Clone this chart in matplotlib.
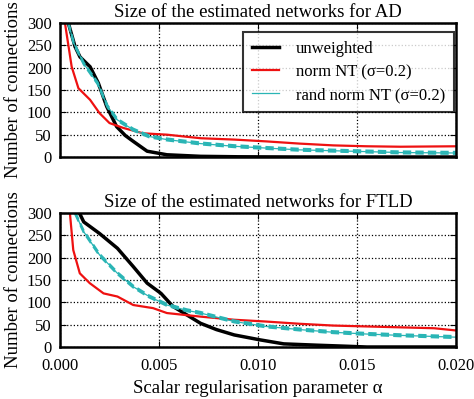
import matplotlib
matplotlib.use("Agg")
import matplotlib.pyplot as plt
import numpy as np

plt.rcParams["font.family"] = ["Liberation Serif", "DejaVu Serif"]

# alpha values (x) and number of connections (y)
ad_unw_x = [0.00042, 0.00076, 0.00101, 0.00152, 0.00194, 0.00236, 0.00286, 0.0033, 0.0037, 0.0044, 0.0054, 0.0071, 0.009, 0.012, 0.02]
ad_unw_y = [300, 247, 224, 202, 165, 113, 68, 48, 35, 13, 5, 1.5, 0.5, 0, 0]

ad_nt_x = [0.00025, 0.00059, 0.00093, 0.00152, 0.002, 0.0025, 0.0032, 0.0042, 0.0054, 0.0071, 0.0088, 0.0104, 0.0121, 0.0138, 0.0155, 0.0172, 0.02]
ad_nt_y = [300, 202, 154, 128, 98, 76, 65, 53, 50, 42, 39, 35, 30, 26, 24, 23, 24]

ad_rand_x = [0.00042, 0.0007, 0.0012, 0.0019, 0.0024, 0.0029, 0.0037, 0.0045, 0.0054, 0.0071, 0.0088, 0.0104, 0.0121, 0.0138, 0.0155, 0.0172, 0.02]
ad_rand_y = [300, 254, 209, 165, 113, 83, 61, 46, 39, 30, 24, 20, 16, 14, 12, 10, 9]

ftld_unw_x = [0.00098, 0.0012, 0.002, 0.0029, 0.0037, 0.0044, 0.0051, 0.0057, 0.0064, 0.0071, 0.0079, 0.0088, 0.0101, 0.0113, 0.013, 0.0146, 0.0155, 0.02]
ftld_unw_y = [300, 280, 254, 221, 180, 143, 120, 91, 72, 53, 39, 27, 16, 7, 4, 1.5, 0, 0]

ftld_nt_x = [0.0005, 0.00067, 0.001, 0.0015, 0.0022, 0.0029, 0.0037, 0.0047, 0.0054, 0.0071, 0.0088, 0.0104, 0.0121, 0.0138, 0.0155, 0.0172, 0.0189, 0.02]
ftld_nt_y = [300, 217, 165, 143, 120, 113, 94, 87, 76, 68, 61, 57, 52, 48, 46, 44, 42, 37]

ftld_rand_x = [0.00076, 0.0012, 0.002, 0.0029, 0.0037, 0.0045, 0.0054, 0.0064, 0.0071, 0.0088, 0.0104, 0.0121, 0.0138, 0.0155, 0.0172, 0.02]
ftld_rand_y = [300, 258, 206, 165, 135, 113, 94, 82, 76, 57, 46, 39, 33, 29, 26, 22]

labels = ["unweighted", "norm NT (σ=0.2)", "rand norm NT (σ=0.2)"]
titles = ["Size of the estimated networks for AD", "Size of the estimated networks for FTLD"]

fig = plt.figure(figsize=(4.74, 3.99), dpi=100)
ax1 = fig.add_axes([60 / 474, 1 - 157 / 399, 396 / 474, 134 / 399])
ax2 = fig.add_axes([60 / 474, 1 - 347 / 399, 396 / 474, 134 / 399])

panels = [
    (ax1, ad_unw_x, ad_unw_y, ad_nt_x, ad_nt_y, ad_rand_x, ad_rand_y),
    (ax2, ftld_unw_x, ftld_unw_y, ftld_nt_x, ftld_nt_y, ftld_rand_x, ftld_rand_y),
]

for i, (ax, ux, uy, nx, ny, rx, ry) in enumerate(panels):
    ax.plot(ux, uy, color="black", lw=2.5, label=labels[0])
    ax.plot(nx, ny, color="#ee1111", lw=1.6, label=labels[1])
    ry = np.array(ry, dtype=float)
    ax.plot(rx, ry, color="#2ab5b5", lw=0.9, label=labels[2])
    # spread of the random runs drawn dashed just around the mean
    ax.plot(rx, ry + 2.5, color="#2ab5b5", lw=1.5, ls="--", dashes=(4, 2))
    ax.plot(rx, ry - 2.0, color="#2ab5b5", lw=1.5, ls="--", dashes=(4, 2))

    ax.set_xlim(0, 0.02)
    ax.set_ylim(0, 300)
    ax.set_xticks(np.arange(0, 0.0201, 0.005))
    ax.set_yticks(np.arange(0, 301, 50))
    ax.grid(True, color="black", ls=":", lw=0.9)
    ax.tick_params(direction="in", top=True, right=True, labelsize=12, length=4)
    ax.tick_params(axis="y", pad=6)
    ax.tick_params(axis="x", pad=8)
    for s in ax.spines.values():
        s.set_linewidth(1.8)
    ax.set_title(titles[i], fontsize=13.5, pad=4)
    ax.set_ylabel("Number of connections", fontsize=13.5, labelpad=3)

ax1.set_xticklabels([])
ax2.set_xticklabels(["0.000", "0.005", "0.010", "0.015", "0.020"])
ax2.set_xlabel("Scalar regularisation parameter α", fontsize=13.5, labelpad=4)

leg = ax1.legend(loc="upper right", bbox_to_anchor=(0.995, 1 - 9 / 134), fontsize=12,
                 frameon=True, fancybox=False, edgecolor="black", handlelength=1.6,
                 borderpad=0.55, labelspacing=0.42, handletextpad=1.0, borderaxespad=0)
leg.get_frame().set_linewidth(1.5)

fig.savefig("out.png", dpi=100)
